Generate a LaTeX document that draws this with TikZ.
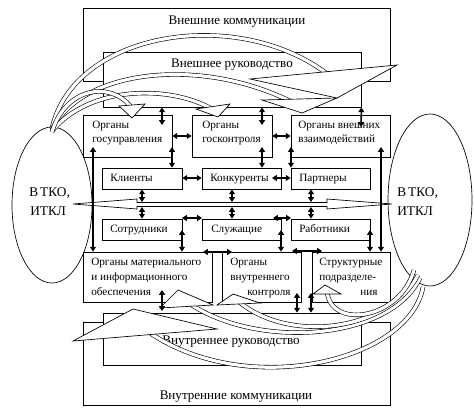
\documentclass[tikz,border=0pt]{standalone}
\usepackage{fontspec}
\setmainfont{Liberation Serif}
\usetikzlibrary{arrows.meta,fit,shapes.geometric}
\begin{document}
\begin{tikzpicture}[x=0.75pt,y=-0.75pt,
  box/.style={draw,fill=white,line width=0.6pt,inner sep=0pt},
  txt/.style={inner sep=0pt,anchor=base west,font=\fontsize{8.4}{10}\selectfont},
  ttl/.style={inner sep=0pt,anchor=base,font=\fontsize{9.8}{11}\selectfont},
  big/.style={inner sep=0pt,anchor=base west,font=\fontsize{10}{12}\selectfont},
  dbl/.style={{Triangle[length=3.6pt,width=4.4pt]}-{Triangle[length=3.6pt,width=4.4pt]},line width=1.1pt},
  band/.style={draw=black,line width=0.45pt,double=white,double distance=2.4pt},
  ahead/.style={draw,fill=white,line width=0.5pt,line join=miter},
  oval/.style={draw,ellipse,line width=0.5pt,inner sep=0pt}
]
\useasboundingbox (0,0) rectangle (474,413);
\fill[white] (0,0) rectangle (474,413);

% ellipses
\node[oval,minimum width=60pt,minimum height=117pt] (eL) at (52,205) {};
\node[oval,minimum width=63pt,minimum height=129pt] (eR) at (430,200) {};

% top boxes
\node[box,fit={(83,8)(390,81)}] (ec) {};
\node[box,fit={(103,52)(361,107)}] (er) {};
\node[ttl] (ecT) at (237,25) {Внешние коммуникации};
\node[ttl] (erT) at (232,68) {Внешнее руководство};

% bottom boxes
\node[box,fit={(83,322)(390,405)}] (ic) {};
\node[box,fit={(103,313)(361,365)}] (ir) {};
\node[ttl] (irT) at (231,344) {Внутреннее руководство};
\node[ttl] (icT) at (236,399) {Внутренние коммуникации};

% rows
\node[box,fit={(83,115)(172,157)}] (gu) {};
\node[box,fit={(192,115)(272,157)}] (gk) {};
\node[box,fit={(291,115)(390,157)}] (ov) {};
\node[box,fit={(102,168)(182,189)}] (kl) {};
\node[box,fit={(202,168)(281,189)}] (kn) {};
\node[box,fit={(291,168)(370,189)}] (pt) {};
\node[box,fit={(102,219)(182,240)}] (st) {};
\node[box,fit={(202,219)(281,240)}] (sl) {};
\node[box,fit={(291,219)(370,240)}] (rb) {};
\node[box,fit={(83,252)(212,302)}] (mo) {};
\node[box,fit={(222,252)(301,302)}] (vk) {};
\node[box,fit={(312,252)(390,302)}] (sp) {};

\node[txt] (t1a) at (92,129) {Органы};
\node[txt] (t1b) at (92,143) {госуправления};
\node[txt] (t2a) at (202,129) {Органы};
\node[txt] (t2b) at (202,143) {госконтроля};
\node[txt] (t3a) at (298,129) {Органы внешних};
\node[txt] (t3b) at (298,143) {взаимодействий};
\node[txt] (klt) at (110,182) {Клиенты};
\node[txt] (knt) at (210,182) {Конкуренты};
\node[txt] (ptt) at (299,182) {Партнеры};
\node[txt] (stt) at (110,233) {Сотрудники};
\node[txt] (slt) at (211,233) {Служащие};
\node[txt] (rbt) at (299,233) {Работники};
\node[txt] (m1) at (91,265) {Органы материального};
\node[txt] (m2) at (91,280) {и информационного};
\node[txt] (m3) at (91,295) {обеспечения};
\node[txt] (v1) at (230,265) {Органы};
\node[txt] (v2) at (230,280) {внутреннего};
\node[txt] (v3) at (247,295) {контроля};
\node[txt] (s1) at (319,265) {Структурные};
\node[txt] (s2) at (319,280) {подразделе-};
\node[txt] (s3) at (360,295) {ния};

% ellipse texts
\node[big] (eLa) at (29,197) {В\kern1.5pt ТКО,};
\node[big] (eLb) at (30,215) {ИТКЛ};
\node[big] (eRa) at (397,197) {В\kern1.5pt ТКО,};
\node[big] (eRb) at (397,215) {ИТКЛ};

% middle double block arrow
\draw[ahead] (73,204) -- (137,199) -- (137,202.5) -- (327,202.5) -- (327,199) -- (392,204)
  -- (327,209) -- (327,206.5) -- (137,206.5) -- (137,209) -- cycle;

% top curved bands
\draw[band] (52,128) .. controls (75,30) and (240,5) .. (330,76);
\draw[band] (52,130) .. controls (80,70) and (200,55) .. (294,103);
\draw[band] (52,131) .. controls (90,85) and (170,85) .. (212,109);
\draw[band] (52,132) .. controls (65,88) and (110,80) .. (131,107);
\draw[ahead] (262,100) -- (302,113) -- (337,98) -- cycle;
\draw[ahead] (250,79) -- (397,65) -- (337,98) -- cycle;
\draw[ahead] (196,109) -- (230,104) -- (218,117) -- cycle;
\draw[ahead] (119,106) -- (145,104) -- (132,118) -- cycle;

% bottom curved bands
\draw[band] (423,287) .. controls (410,360) and (250,400) .. (150,333);
\draw[band] (420,278) .. controls (390,340) and (260,350) .. (190,304);
\draw[band] (418,275) .. controls (390,330) and (290,345) .. (238,301);
\draw[band] (414,270) .. controls (400,320) and (330,330) .. (327,291);
\draw[ahead] (73,341) -- (133,309) -- (217,329) -- cycle;
\draw[ahead] (160,308) -- (178,290) -- (213,305) -- cycle;
\draw[ahead] (217,305) -- (233,294) -- (260,303) -- cycle;
\draw[ahead] (313,294) -- (325,285) -- (341,294) -- cycle;

% double arrows
\draw[dbl] (er.south -| 162,0) -- (162,125);
\draw[dbl] (er.south -| 262,0) -- (262,125);
\draw[dbl] (er.south east) -- (361,127);
\draw[dbl] (gu.east |- 0,136) -- (gk.west |- 0,136);
\draw[dbl] (gk.east |- 0,136) -- (ov.west |- 0,136);
\draw[dbl] (172,147) -- (kl.north -| 172,0);
\draw[dbl] (262,147) -- (kn.north -| 262,0);
\draw[dbl] (291,147) -- (pt.north -| 291,0);
\draw[dbl] (kl.east |- 0,178) -- (kn.west |- 0,178);
\draw[dbl] (272,178) -- (pt.west |- 0,178);
\draw[dbl] (kl.south -| 142,0) -- (142,202);
\draw[dbl] (142,207) -- (st.north -| 142,0);
\draw[dbl] (kn.south -| 232,0) -- (232,202);
\draw[dbl] (232,207) -- (sl.north -| 232,0);
\draw[dbl] (pt.south -| 311,0) -- (311,202);
\draw[dbl] (311,207) -- (rb.north -| 311,0);
\draw[dbl] (182,218) -- (202,218);
\draw[dbl] (273,218) -- (291,218);
\draw[dbl] (182,230) -- (mo.north -| 182,0);
\draw[dbl] (281,230) -- (vk.north -| 281,0);
\draw[dbl] (370,230) -- (sp.north -| 370,0);
\draw[dbl] (93,147) -- (mo.north -| 93,0);
\draw[dbl] (381,147) -- (sp.north -| 381,0);
\draw[dbl] (203,252) -- (232,252);
\draw[dbl] (292,251) -- (322,251);
\draw[dbl] (162,290) -- (162,311);
\draw[dbl] (297,293) -- (ir.north -| 297,0);
\draw[dbl] (311,293) -- (ir.north -| 311,0);
\end{tikzpicture}
\end{document}
